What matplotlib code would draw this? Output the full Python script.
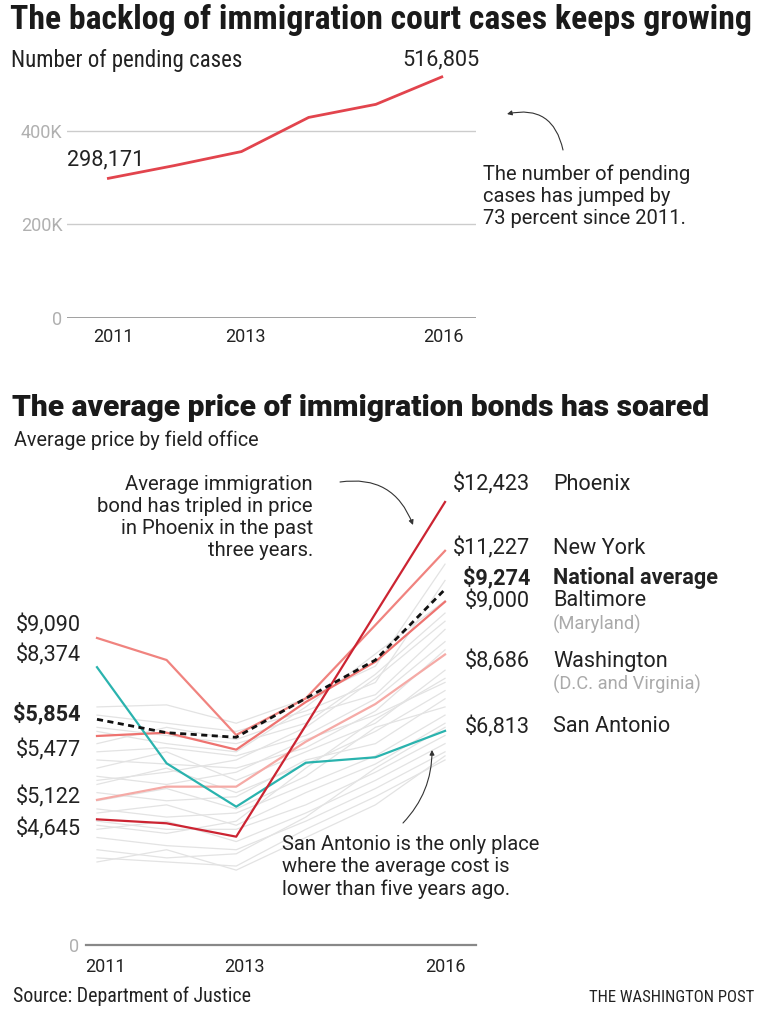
import matplotlib
matplotlib.use("Agg")
import matplotlib.pyplot as plt
from matplotlib import font_manager
from matplotlib.transforms import ScaledTranslation

# ── Data ──────────────────────────────────────────────────────────────────────
years = [2011, 2012, 2013, 2014, 2015, 2016]

# pending immigration court cases
pending = [298171, 326000, 356000, 429000, 457000, 516805]

# average bond price by field office ($)
phoenix      = [4645, 4548, 4220, 6950, 9690, 12423]
new_york     = [9090, 8550, 6712, 7611, 9408, 11227]
baltimore    = [6688, 6769, 6353, 7521, 8509, 9979]
washington   = [5122, 5446, 5446, 6548, 7472, 8686]
san_antonio  = [8374, 6018, 4955, 6033, 6166, 6813]
national_avg = [7097, 6769, 6656, 7611, 8550, 10283]

# the other field offices (grey background lines)
other_offices = [
    [7400, 7450, 7000, 7600, 8400, 10900],
    [7200, 7000, 6800, 7300, 8000, 10500],
    [6900, 6700, 6500, 7000, 8200, 9700],
    [6500, 6900, 6600, 7200, 7700, 9300],
    [6300, 6400, 6200, 6700, 7600, 9000],
    [6100, 6000, 5900, 6400, 7300, 8800],
    [5900, 6300, 5600, 6300, 7000, 8300],
    [5700, 5500, 5800, 6600, 7200, 8000],
    [5500, 5900, 5300, 6000, 6800, 7800],
    [5300, 5100, 5200, 6100, 6500, 7600],
    [5100, 5400, 4900, 5700, 6900, 7400],
    [4900, 4700, 4800, 5500, 6200, 7200],
    [4800, 5000, 4500, 5300, 6000, 7000],
    [4600, 4400, 4400, 5000, 5800, 6700],
    [4400, 4600, 4100, 4800, 5600, 6500],
    [4200, 4000, 3900, 4600, 5400, 6300],
    [3900, 3700, 3800, 4700, 5900, 6900],
    [3700, 3600, 3500, 4400, 5200, 6100],
    [6800, 6500, 6300, 7400, 8700, 10000],
    [5600, 5800, 6100, 6900, 8100, 9500],
    [4500, 4300, 4600, 5900, 7100, 8100],
    [3600, 3900, 3400, 4200, 5000, 6200],
]

year_ticks = [2011, 2013, 2016]
pending_ticks = [0, 200000, 400000]
pending_tick_labels = ["0", "200K", "400K"]

# ── Fonts ─────────────────────────────────────────────────────────────────────
installed = {f.name for f in font_manager.fontManager.ttflist}


def pick(*names):
    for n in names:
        if n in installed:
            return n
    return "DejaVu Sans"


NARROW = pick("Roboto Condensed", "Liberation Sans Narrow", "Roboto")
BODY = pick("Roboto", "Open Sans")

W, H = 768, 1024
fig = plt.figure(figsize=(W / 100, H / 100), dpi=100, facecolor="white")
renderer = fig.canvas.get_renderer()
INK = "#222222"


def px(x, y):
    # pixel position (from top-left) -> figure fraction
    return x / W, 1 - y / H


def ftext(x, y, s, **kw):
    kw.setdefault("color", INK)
    kw.setdefault("va", "center")
    fx, fy = px(x, y)
    return fig.text(fx, fy, s, **kw)


def fit_width(t, target):
    w = t.get_window_extent(renderer).width
    t.set_fontsize(t.get_fontsize() * target / w)
    return t.get_fontsize()


# ── Top chart: pending cases ─────────────────────────────────────────────────
ax1 = fig.add_axes([66.7 / W, 1 - 318 / H, 409.3 / W, 262 / H])
ax1.plot(years, pending, color="#e2444d", lw=2.0, solid_capstyle="butt", zorder=3)
ax1.set_xlim(2010.40, 2016.49)
ax1.set_ylim(0, 560400)
for v in pending_ticks[1:]:
    ax1.axhline(v, color="#cccccc", lw=1.0, zorder=1)
ax1.axhline(0, color="#999999", lw=1.3, zorder=1)
ax1.set_yticks(pending_ticks)
ax1.set_yticklabels(pending_tick_labels)
ax1.set_xticks(year_ticks)
ax1.tick_params(length=0)
ax1.tick_params(axis="y", pad=3, labelcolor="#b0b0b0")
ax1.tick_params(axis="x", pad=7, labelcolor=INK)

# ── Bottom chart: bond prices ────────────────────────────────────────────────
ax2 = fig.add_axes([86 / W, 1 - 945 / H, 390 / W, 475 / H])
for row in other_offices:
    ax2.plot(years, row, color="#e3e3e3", lw=0.9, zorder=1)
ax2.plot(years, washington, color="#f5aaa6", lw=1.6, zorder=2)
ax2.plot(years, baltimore, color="#ee7370", lw=1.6, zorder=3)
ax2.plot(years, new_york, color="#f0837f", lw=1.6, zorder=3)
ax2.plot(years, san_antonio, color="#2ab3ae", lw=1.6, zorder=4)
ax2.plot(years, phoenix, color="#cc2432", lw=1.6, zorder=5)
ax2.plot(years, national_avg, color="#111111", lw=2.0, ls=(0, (2.2, 1.6)), zorder=6)
ax2.set_xlim(2010.842, 2016.445)
y0 = 1565
ax2.set_ylim(y0, y0 + 475 / 0.0408)
ax2.axhline(y0, color="#888888", lw=1.6, zorder=1, clip_on=False)
ax2.set_yticks([y0])
ax2.set_yticklabels(["0"])
ax2.set_xticks(year_ticks)
ax2.tick_params(length=0)
ax2.tick_params(axis="y", pad=5, labelcolor="#b0b0b0")
ax2.tick_params(axis="x", pad=9, labelcolor=INK)

# year labels sit a little to the right of their data point in the original
for ax, shifts in ((ax1, [6, 4, 0]), (ax2, [8, 8, 0])):
    for s in ax.spines.values():
        s.set_visible(False)
    for lab in ax.get_yticklabels():
        lab.set_fontfamily(BODY)
        lab.set_fontsize(13)
    for lab, dx in zip(ax.get_xticklabels(), shifts):
        lab.set_fontfamily(BODY)
        lab.set_fontsize(13)
        lab.set_transform(lab.get_transform() +
                          ScaledTranslation(dx / 100, 0, fig.dpi_scale_trans))

# ── Titles and headers ────────────────────────────────────────────────────────
t = ftext(10, 20, "The backlog of immigration court cases keeps growing",
          fontfamily=NARROW, fontweight="bold", fontsize=20, color="#1a1a1a")
fit_width(t, 740)
t = ftext(12, 408, "The average price of immigration bonds has soared",
          fontfamily=BODY, fontweight="heavy", fontsize=18, color="#1a1a1a")
fit_width(t, 698)

t = ftext(11, 60, "Number of pending cases", fontfamily=NARROW, fontsize=13)
fit_width(t, 230)
t = ftext(14, 440, "Average price by field office", fontfamily=BODY, fontsize=12)
fit_width(t, 244)

# value labels
probe = ftext(530, 484, "$12,423", fontfamily=BODY, fontsize=13, ha="right")
lab_fs = fit_width(probe, 77)

ftext(441, 60, "516,805", fontfamily=BODY, fontsize=lab_fs, ha="center")
ftext(106, 160, "298,171", fontfamily=BODY, fontsize=lab_fs, ha="center")

right_labels = [
    (548, "$11,227", "New York", None, False),
    (578, "$9,274", "National average", None, True),
    (601, "$9,000", "Baltimore", "(Maryland)", False),
    (661, "$8,686", "Washington", "(D.C. and Virginia)", False),
    (727, "$6,813", "San Antonio", None, False),
]
ftext(553, 484, "Phoenix", fontfamily=BODY, fontsize=lab_fs)
for y, val, name, sub, bold in right_labels:
    w = "bold" if bold else "normal"
    ftext(530, y, val, fontfamily=BODY, fontsize=lab_fs, ha="right", fontweight=w)
    ftext(553, y, name, fontfamily=BODY, fontsize=lab_fs, fontweight=w)
    if sub:
        ftext(553, y + 23, sub, fontfamily=BODY, fontsize=lab_fs * 0.85,
              color="#aaaaaa")

left_labels = [
    (625, "$9,090", False),
    (655, "$8,374", False),
    (714, "$5,854", True),
    (750, "$5,477", False),
    (797, "$5,122", False),
    (829, "$4,645", False),
]
for y, val, bold in left_labels:
    ftext(81, y, val, fontfamily=BODY, fontsize=lab_fs, ha="right",
          fontweight="bold" if bold else "normal")

# ── Annotations ───────────────────────────────────────────────────────────────
t = ftext(483, 196, "The number of pending\ncases has jumped by\n73 percent since 2011.",
          fontfamily=BODY, fontsize=lab_fs, linespacing=1.2)
fit_width(t, 208)
t = ftext(313, 518, "Average immigration\nbond has tripled in price\nin Phoenix in the past\nthree years.",
          fontfamily=BODY, fontsize=lab_fs, ha="right",
          multialignment="right", linespacing=1.2)
fit_width(t, 217)
t = ftext(282, 867, "San Antonio is the only place\nwhere the average cost is\nlower than five years ago.",
          fontfamily=BODY, fontsize=lab_fs, linespacing=1.2)
fit_width(t, 258)

arrow_kw = dict(arrowstyle="-|>", color="#333333", lw=0.8, mutation_scale=7,
                shrinkA=0, shrinkB=0)
for (xs, ys), (xe, ye), rad in [((563, 150), (507, 114), 0.5),
                                ((340, 482), (413, 525), -0.4),
                                ((403, 823), (432, 750), 0.2)]:
    fig.add_artist(matplotlib.patches.FancyArrowPatch(
        px(xs, ys), px(xe, ye), transform=fig.transFigure,
        connectionstyle=f"arc3,rad={rad}", **arrow_kw))

# ── Footer ────────────────────────────────────────────────────────────────────
t = ftext(13, 996, "Source: Department of Justice", fontfamily=NARROW, fontsize=12)
fit_width(t, 238)
t = ftext(754, 998, "THE WASHINGTON POST", fontfamily=NARROW, fontsize=11, ha="right")
fit_width(t, 165)

fig.savefig("out.png", dpi=100, facecolor="white")
